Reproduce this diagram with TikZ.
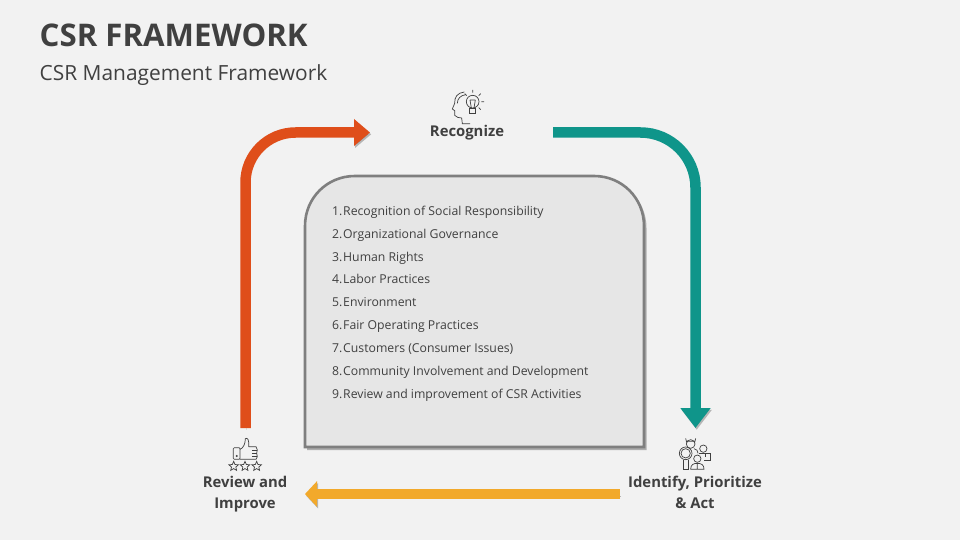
\documentclass[tikz,border=0pt]{standalone}
\usepackage{fontspec}
\setmainfont{Open Sans}
\usepackage{xcolor}
\usetikzlibrary{arrows.meta,positioning,shapes.geometric}
\definecolor{backdrop}{HTML}{F2F2F2}
\definecolor{ink}{HTML}{404040}
\definecolor{boxfill}{HTML}{E6E6E6}
\definecolor{boxline}{HTML}{7F7F7F}
\definecolor{rust}{HTML}{DF4E1A}
\definecolor{teal}{HTML}{0F958A}
\definecolor{amber}{HTML}{F2A92B}
\tikzset{
    flow/.style={
        line width=10.5pt,
        preaction={
            draw=black,
            opacity=0.25,
            transform canvas={shift={(1.2pt,-1.8pt)}}
        }
    },
    icon/.style={
        color=ink,
        line width=0.7pt
    },
    steplabel/.style={
        color=ink,
        font=\bfseries\fontsize{14.85}{21}\selectfont,
        align=center,
        inner sep=0pt
    },
    listitem/.style={
        color=ink,
        font=\fontsize{12.25}{14}\selectfont,
        anchor=base west,
        inner sep=0pt
    },
    starmark/.style={
        star,
        star points=5,
        star point ratio=2.2,
        draw=ink,
        line width=0.7pt,
        minimum size=10pt,
        inner sep=0pt
    }
}
\begin{document}
\begin{tikzpicture}[x=1pt,y=-1pt]

    % Fond
    \fill[backdrop] (0,0) rectangle (960,540);
    \useasboundingbox (0,0) rectangle (960,540);

    % Titres
    \node[
        color=ink,
        anchor=base west,
        inner sep=0pt,
        font=\bfseries\fontsize{31.2}{40}\selectfont
    ] (title)
        at (39.5,46.5)
        {CSR FRAMEWORK};

    \node[
        color=ink,
        anchor=base west,
        inner sep=0pt,
        font=\fontsize{20.9}{24}\selectfont
    ] (subtitle)
        at (39.5,81)
        {CSR Management Framework};

    % Cadre central
    \fill[black,opacity=0.28]
        (307,450) -- (307,228)
        .. controls (307,200) and (329,178) .. (357,178)
        -- (596,178)
        .. controls (624,178) and (646.5,200) .. (646.5,228)
        -- (646.5,450) -- cycle;

    \filldraw[boxline,fill=boxfill,line width=2.6pt]
        (305,447) -- (305,226)
        .. controls (305,198) and (327,176) .. (355,176)
        -- (594,176)
        .. controls (622,176) and (644,198) .. (644,226)
        -- (644,447) -- cycle;

    % Liste
    \foreach \n/\item [count=\i from 0] in {
        1/Recognition of Social Responsibility,
        2/Organizational Governance,
        3/Human Rights,
        4/Labor Practices,
        5/Environment,
        6/Fair Operating Practices,
        7/Customers (Consumer Issues),
        8/Community Involvement and Development,
        9/Review and improvement of CSR Activities}
    {
        \node[listitem] (num\n) at (332,215.4+22.85*\i) {\n.};
        \node[listitem] (item\n) at (343,215.4+22.85*\i) {\item};
    }

    % Etapes
    \node[steplabel] (recognize) at (467,133) {Recognize};
    \node[steplabel] (identify) at (695,492) {Identify, Prioritize\\\& Act};
    \node[steplabel] (review) at (245,494) {Review and\\Improve};

    % Bouts des fleches
    \coordinate (rustStart) at (245.5,428);
    \coordinate (rustEnd) at (370,132.5);
    \coordinate (tealStart) at (553,132.5);
    \coordinate (tealEnd) at (695.5,428);
    \coordinate (amberStart) at (620,494);
    \coordinate (amberEnd) at (305,494);

    % Fleches
    \draw[
        flow,
        rust,
        rounded corners=50pt,
        -{Triangle[length=16pt,width=26pt]}
    ]
        (rustStart) |- (rustEnd);

    \draw[
        flow,
        teal,
        rounded corners=55pt,
        -{Triangle[length=20pt,width=29pt]}
    ]
        (tealStart) -| (tealEnd);

    \draw[
        flow,
        amber,
        -{Triangle[length=12pt,width=25pt]}
    ]
        (amberStart) -- (amberEnd);

    % Icone ampoule
    \begin{scope}[shift={(420,80)},x=0.3333pt,y=-0.3333pt]
        \draw[icon]
            (133,36) .. controls (112,38) and (103,52) .. (104,70)
            -- (97,87) -- (104,92) -- (104,106)
            .. controls (108,114) and (118,112) .. (125,114)
            -- (127,131) -- (150,131);
        \draw[icon]
            (137,44) .. controls (122,46) and (112,56) .. (112,70);
        \draw[icon]
            (158,65) circle (19);
        \draw[icon]
            (150,60) -- (154,84)
            (166,60) -- (162,84)
            (150,60) -- (166,60);
        \draw[icon]
            (149,86) rectangle (167,101);
        \draw[icon]
            (158,38) -- (158,30)
            (176,47) -- (182,41)
            (184,65) -- (192,65)
            (176,83) -- (182,89)
            (140,47) -- (134,41);
    \end{scope}

    % Icone equipe
    \begin{scope}[shift={(620,400)},x=0.3333pt,y=-0.3333pt]
        \draw[icon] (197,160) circle (19);
        \draw[icon] (197,160) circle (14);
        \draw[icon] (190,180) -- (190,208) -- (204,208) -- (204,180);
        \draw[icon] (212,132) circle (13);
        \draw[icon]
            (200,128) -- (197,115)
            (224,128) -- (227,115)
            (200,124) -- (224,124)
            (222,146) .. controls (230,148) and (234,152) .. (234,160);
        \draw[icon] (250,146) circle (11);
        \draw[icon]
            (238,160) -- (272,160) -- (272,182) -- (252,182)
            (255,160) -- (255,172);
        \draw[icon] (232,176) circle (11);
        \draw[icon]
            (212,208) .. controls (212,194) and (220,190) .. (232,190)
            .. controls (244,190) and (252,194) .. (252,208) -- cycle
            (232,190) -- (232,208);
    \end{scope}

    % Icone pouce
    \begin{scope}[shift={(190,420)},x=0.3333pt,y=-0.3333pt]
        \draw[icon,rounded corners=1pt] (130,83) rectangle (150,118);
        \draw[icon] (140,108) circle (2);
        \draw[icon,line join=round]
            (150,88) .. controls (160,84) and (166,72) .. (166,56)
            .. controls (172,52) and (178,58) .. (176,80)
            -- (198,80) -- (202,90) -- (200,100) -- (202,110) -- (198,118)
            -- (150,118);
        \draw[icon]
            (186,90) -- (202,90)
            (186,100) -- (202,100)
            (186,110) -- (202,110);
        \foreach \i/\xpos in {1/131,2/165,3/200} {
            \node[starmark] (star\i) at (\xpos,139) {};
        }
    \end{scope}

\end{tikzpicture}
\end{document}
